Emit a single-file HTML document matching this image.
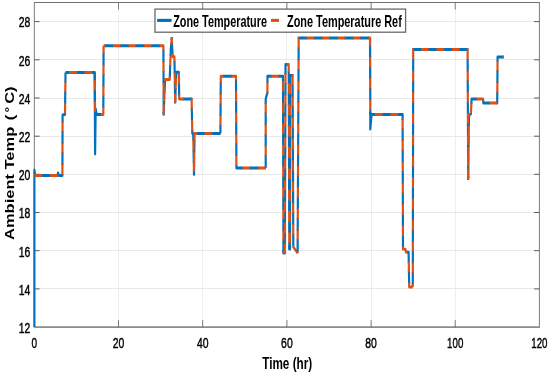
<!DOCTYPE html>
<html lang="en"><head><meta charset="utf-8"><title>Zone Temperature</title>
<style>html,body{margin:0;padding:0;background:#fff}body{width:550px;height:376px;overflow:hidden}svg{display:block}text{font-family:"Liberation Sans",Arial,Helvetica,sans-serif;fill:#000}main,figure{margin:0;padding:0;display:block;width:550px;height:376px}</style></head><body><main><figure>
<svg width="550" height="376" viewBox="0 0 550 376" role="img" aria-label="Zone temperature versus time">
<rect width="550" height="376" fill="#fff"/>
<g stroke="#e9e9e9" stroke-width="1" shape-rendering="crispEdges">
<line stroke="#eeeeee" x1="118.5" y1="2.5" x2="118.5" y2="327.1"/>
<line stroke="#eeeeee" x1="202.7" y1="2.5" x2="202.7" y2="327.1"/>
<line stroke="#eeeeee" x1="286.9" y1="2.5" x2="286.9" y2="327.1"/>
<line stroke="#eeeeee" x1="371.1" y1="2.5" x2="371.1" y2="327.1"/>
<line stroke="#eeeeee" x1="455.2" y1="2.5" x2="455.2" y2="327.1"/>
<line x1="34.4" y1="288.9" x2="539.4" y2="288.9"/>
<line x1="34.4" y1="250.7" x2="539.4" y2="250.7"/>
<line x1="34.4" y1="212.5" x2="539.4" y2="212.5"/>
<line x1="34.4" y1="174.3" x2="539.4" y2="174.3"/>
<line x1="34.4" y1="136.2" x2="539.4" y2="136.2"/>
<line x1="34.4" y1="98.0" x2="539.4" y2="98.0"/>
<line x1="34.4" y1="59.8" x2="539.4" y2="59.8"/>
<line x1="34.4" y1="21.6" x2="539.4" y2="21.6"/>
</g>
<g fill="none">
<line x1="34.35" y1="2.00" x2="34.35" y2="327.80" stroke="#7c7c7c" stroke-width="1"/>
<line x1="539.40" y1="2.00" x2="539.40" y2="327.80" stroke="#7c7c7c" stroke-width="1"/>
<line x1="34.35" y1="2.50" x2="539.40" y2="2.50" stroke="#707070" stroke-width="1"/>
<line x1="34.35" y1="327.10" x2="539.40" y2="327.10" stroke="#8c8c8c" stroke-width="1.6"/>
<g stroke="#555" stroke-width="0.75">
<line x1="118.5" y1="327.1" x2="118.5" y2="320.1"/>
<line x1="118.5" y1="2.5" x2="118.5" y2="9.5"/>
<line x1="202.7" y1="327.1" x2="202.7" y2="320.1"/>
<line x1="202.7" y1="2.5" x2="202.7" y2="9.5"/>
<line x1="286.9" y1="327.1" x2="286.9" y2="320.1"/>
<line x1="286.9" y1="2.5" x2="286.9" y2="9.5"/>
<line x1="371.1" y1="327.1" x2="371.1" y2="320.1"/>
<line x1="371.1" y1="2.5" x2="371.1" y2="9.5"/>
<line x1="455.2" y1="327.1" x2="455.2" y2="320.1"/>
<line x1="455.2" y1="2.5" x2="455.2" y2="9.5"/>
</g><g stroke="#5c5c5c" stroke-width="1">
<line x1="34.4" y1="288.9" x2="39.6" y2="288.9"/>
<line x1="539.4" y1="288.9" x2="534.1" y2="288.9"/>
<line x1="34.4" y1="250.7" x2="39.6" y2="250.7"/>
<line x1="539.4" y1="250.7" x2="534.1" y2="250.7"/>
<line x1="34.4" y1="212.5" x2="39.6" y2="212.5"/>
<line x1="539.4" y1="212.5" x2="534.1" y2="212.5"/>
<line x1="34.4" y1="174.3" x2="39.6" y2="174.3"/>
<line x1="539.4" y1="174.3" x2="534.1" y2="174.3"/>
<line x1="34.4" y1="136.2" x2="39.6" y2="136.2"/>
<line x1="539.4" y1="136.2" x2="534.1" y2="136.2"/>
<line x1="34.4" y1="98.0" x2="39.6" y2="98.0"/>
<line x1="539.4" y1="98.0" x2="534.1" y2="98.0"/>
<line x1="34.4" y1="59.8" x2="39.6" y2="59.8"/>
<line x1="539.4" y1="59.8" x2="534.1" y2="59.8"/>
<line x1="34.4" y1="21.6" x2="39.6" y2="21.6"/>
<line x1="539.4" y1="21.6" x2="534.1" y2="21.6"/>
</g></g>
<g transform="scale(0.724,1)" fill="none" stroke-linejoin="round">
<polyline stroke="#0072bd" stroke-width="3.0" points="47.51,327.00 47.51,170.00 48.62,175.40"/>
<polyline stroke="#0072bd" stroke-width="3.0" points="130.80,72.50 131.35,154.00 132.18,109.00 133.43,114.40"/>
<polyline stroke="#0072bd" stroke-width="3.0" points="226.10,112.00 226.10,115.60"/>
<polyline stroke="#0072bd" stroke-width="3.0" points="237.15,37.00 237.15,40.00"/>
<polyline stroke="#0072bd" stroke-width="3.0" points="241.99,100.00 241.99,103.40"/>
<polyline stroke="#0072bd" stroke-width="3.0" points="267.96,170.00 267.96,175.60"/>
<polyline stroke="#0072bd" stroke-width="3.0" points="391.44,250.00 391.44,253.00 393.37,253.00 393.37,250.00"/>
<polyline stroke="#0072bd" stroke-width="3.0" points="399.59,246.00 399.59,249.00 400.55,249.00 400.55,246.00"/>
<polyline stroke="#0072bd" stroke-width="3.0" points="511.46,112.00 511.46,129.00 513.26,114.40"/>
<polyline stroke="#0072bd" stroke-width="3.0" points="646.69,176.00 646.69,180.00"/>
<polyline stroke="#0072bd" stroke-width="3.0" stroke-dasharray="12.65 8.65" stroke-dashoffset="11.65" points="47.51,175.40 79.28,175.40 80.11,173.00 81.22,175.40 86.19,175.40 86.46,115.00 89.78,114.40 90.47,72.50"/>
<polyline stroke="#d95319" stroke-width="3.0" stroke-dasharray="10.65 10.65" stroke-dashoffset="0.00" points="47.51,175.40 79.28,175.40 80.11,173.00 81.22,175.40 86.19,175.40 86.46,115.00 89.78,114.40 90.47,72.50"/>
<polyline stroke="#0072bd" stroke-width="3.0" stroke-dasharray="12.65 8.65" stroke-dashoffset="6.55" points="90.47,72.50 130.80,72.50 131.35,114.40 142.68,114.40 143.09,45.70"/>
<polyline stroke="#d95319" stroke-width="3.0" stroke-dasharray="10.65 10.65" stroke-dashoffset="16.20" points="90.47,72.50 130.80,72.50 131.35,114.40 142.68,114.40 143.09,45.70"/>
<polyline stroke="#0072bd" stroke-width="3.0" stroke-dasharray="12.65 8.65" stroke-dashoffset="19.95" points="143.09,45.70 225.69,45.70 226.10,113.60 228.04,79.40 234.39,79.40 235.91,49.00 237.15,38.50 238.54,56.70 240.88,56.70 241.99,102.00 243.37,72.20 246.96,72.20 247.51,99.00 264.64,99.00 265.61,133.50 266.85,133.50 267.96,172.50 268.78,133.50 304.42,133.50"/>
<polyline stroke="#d95319" stroke-width="3.0" stroke-dasharray="10.65 10.65" stroke-dashoffset="8.30" points="143.09,45.70 225.69,45.70 226.10,113.60 228.04,79.40 234.39,79.40 235.91,49.00 237.15,38.50 238.54,56.70 240.88,56.70 241.99,102.00 243.37,72.20 246.96,72.20 247.51,99.00 264.64,99.00 265.61,133.50 266.85,133.50 267.96,172.50 268.78,133.50 304.42,133.50"/>
<polyline stroke="#0072bd" stroke-width="3.0" stroke-dasharray="12.65 8.65" stroke-dashoffset="3.85" points="304.42,133.50 304.97,76.30 325.97,76.30 326.52,168.00 366.99,168.00"/>
<polyline stroke="#d95319" stroke-width="3.0" stroke-dasharray="10.65 10.65" stroke-dashoffset="13.50" points="304.42,133.50 304.97,76.30 325.97,76.30 326.52,168.00 366.99,168.00"/>
<polyline stroke="#0072bd" stroke-width="3.0" stroke-dasharray="12.65 8.65" stroke-dashoffset="21.14" points="366.99,168.00 366.99,99.00 369.34,92.50 369.48,76.30 390.88,76.30 391.44,252.00 393.37,252.00 394.34,64.40 398.76,64.40 399.59,248.00 400.55,248.00 401.10,75.60 404.14,75.60 405.11,247.00 411.05,253.00"/>
<polyline stroke="#d95319" stroke-width="3.0" stroke-dasharray="10.65 10.65" stroke-dashoffset="9.49" points="366.99,168.00 366.99,99.00 369.34,92.50 369.48,76.30 390.88,76.30 391.44,252.00 393.37,252.00 394.34,64.40 398.76,64.40 399.59,248.00 400.55,248.00 401.10,75.60 404.14,75.60 405.11,247.00 411.05,253.00"/>
<polyline stroke="#0072bd" stroke-width="3.0" stroke-dasharray="12.65 8.65" stroke-dashoffset="20.24" points="411.05,253.00 412.57,38.10 511.05,38.10 511.46,114.40 556.08,114.40 556.63,249.00 559.94,249.30 560.77,252.00 564.36,252.30 565.19,287.00 570.17,287.00"/>
<polyline stroke="#d95319" stroke-width="3.0" stroke-dasharray="10.65 10.65" stroke-dashoffset="8.59" points="411.05,253.00 412.57,38.10 511.05,38.10 511.46,114.40 556.08,114.40 556.63,249.00 559.94,249.30 560.77,252.00 564.36,252.30 565.19,287.00 570.17,287.00"/>
<polyline stroke="#0072bd" stroke-width="3.0" stroke-dasharray="12.65 8.65" stroke-dashoffset="19.05" points="570.17,287.00 570.72,49.60 645.86,49.60 646.69,178.00 647.79,115.00 650.28,115.00"/>
<polyline stroke="#d95319" stroke-width="3.0" stroke-dasharray="10.65 10.65" stroke-dashoffset="7.40" points="570.17,287.00 570.72,49.60 645.86,49.60 646.69,178.00 647.79,115.00 650.28,115.00"/>
<polyline stroke="#0072bd" stroke-width="3.0" stroke-dasharray="12.65 8.65" stroke-dashoffset="10.31" points="650.28,115.00 651.38,99.00 667.13,99.00 667.68,103.00 686.74,103.00 687.29,57.00 696.13,57.00"/>
<polyline stroke="#d95319" stroke-width="3.0" stroke-dasharray="10.65 10.65" stroke-dashoffset="19.96" points="650.28,115.00 651.38,99.00 667.13,99.00 667.68,103.00 686.74,103.00 687.29,57.00 696.13,57.00"/>
</g>
<g font-size="15.5" fill="#000" stroke="#000" stroke-width="0.45">
<text x="30.3" y="332.9" text-anchor="end" textLength="11.6" lengthAdjust="spacingAndGlyphs">12</text>
<text x="30.3" y="294.7" text-anchor="end" textLength="11.6" lengthAdjust="spacingAndGlyphs">14</text>
<text x="30.3" y="256.5" text-anchor="end" textLength="11.6" lengthAdjust="spacingAndGlyphs">16</text>
<text x="30.3" y="218.3" text-anchor="end" textLength="11.6" lengthAdjust="spacingAndGlyphs">18</text>
<text x="30.3" y="180.1" text-anchor="end" textLength="11.6" lengthAdjust="spacingAndGlyphs">20</text>
<text x="30.3" y="142.0" text-anchor="end" textLength="11.6" lengthAdjust="spacingAndGlyphs">22</text>
<text x="30.3" y="103.8" text-anchor="end" textLength="11.6" lengthAdjust="spacingAndGlyphs">24</text>
<text x="30.3" y="65.6" text-anchor="end" textLength="11.6" lengthAdjust="spacingAndGlyphs">26</text>
<text x="30.3" y="27.4" text-anchor="end" textLength="11.6" lengthAdjust="spacingAndGlyphs">28</text>
<text x="34.4" y="347.6" text-anchor="middle" textLength="5.6" lengthAdjust="spacingAndGlyphs">0</text>
<text x="118.5" y="347.6" text-anchor="middle" textLength="11.6" lengthAdjust="spacingAndGlyphs">20</text>
<text x="202.7" y="347.6" text-anchor="middle" textLength="11.6" lengthAdjust="spacingAndGlyphs">40</text>
<text x="286.9" y="347.6" text-anchor="middle" textLength="11.6" lengthAdjust="spacingAndGlyphs">60</text>
<text x="371.1" y="347.6" text-anchor="middle" textLength="11.6" lengthAdjust="spacingAndGlyphs">80</text>
<text x="455.2" y="347.6" text-anchor="middle" textLength="16.2" lengthAdjust="spacingAndGlyphs">100</text>
<text x="539.4" y="347.6" text-anchor="middle" textLength="16.2" lengthAdjust="spacingAndGlyphs">120</text>
</g>
<text x="262.2" y="368.6" font-size="16" font-weight="bold" textLength="50" lengthAdjust="spacingAndGlyphs">Time (hr)</text>
<text transform="translate(13.8,240) rotate(-90) scale(1,0.74)" font-size="16.5" font-weight="bold">Ambient Temp <tspan dx="2">(</tspan><tspan x="127.6" dy="-1.2" font-size="14" font-weight="normal" stroke="#000" stroke-width="0.35">°</tspan><tspan x="136.2" dy="1.2">C)</tspan></text>
<rect x="155" y="9.1" width="250.6" height="23.1" fill="#fff" stroke="#6a6a6a" stroke-width="1.3"/>
<line x1="157.1" y1="20.4" x2="171.6" y2="20.4" stroke="#0072bd" stroke-width="3.1"/>
<line x1="271" y1="20.4" x2="279" y2="20.4" stroke="#d95319" stroke-width="3.1"/>
<text x="173.2" y="26.5" font-size="16.2" font-weight="bold" fill="#000" textLength="93.8" lengthAdjust="spacingAndGlyphs">Zone Temperature</text>
<text x="287" y="26.5" font-size="16.2" font-weight="bold" fill="#000" textLength="114.8" lengthAdjust="spacingAndGlyphs">Zone Temperature Ref</text>
</svg></figure></main></body></html>
